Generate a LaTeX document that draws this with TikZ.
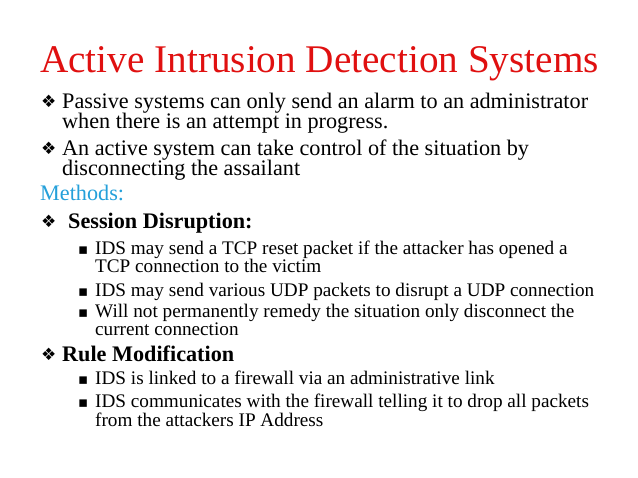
\documentclass[tikz,border=0pt]{standalone}
\usepackage{fontspec}
\setmainfont{Liberation Serif}
\newfontfamily\symfont{DejaVu Sans}
\definecolor{titlered}{RGB}{224,16,16}
\definecolor{methblue}{RGB}{36,160,218}
\begin{document}
\begin{tikzpicture}[x=1pt,y=-1pt,
  txt/.style={anchor=base west,inner sep=0pt,font=\fontsize{22.2}{26}\selectfont},
  subtxt/.style={anchor=base west,inner sep=0pt,font=\fontsize{19.2}{23}\selectfont},
  dmd/.style={anchor=base west,inner sep=0pt,font=\symfont\fontsize{17}{20}\selectfont},
  sq/.style={anchor=base west,inner sep=0pt,font=\symfont\fontsize{15}{18}\selectfont}]
\useasboundingbox (0,0) rectangle (638,478);
\fill[white] (0,0) rectangle (638,478);
\node[anchor=base,inner sep=0pt,text=titlered,font=\fontsize{39.2}{46}\selectfont] (title) at (319.5,73) {Active Intrusion Detection Systems};
% bullet 1
\node[dmd] (b1) at (41,108) {❖};
\node[txt] (t1a) at (62,109) {Passive systems can only send an alarm to an administrator};
\node[txt] (t1b) at (62,129) {when there is an attempt in progress.};
% bullet 2
\node[dmd] (b2) at (41,155) {❖};
\node[txt] (t2a) at (62,156) {An active system can take control of the situation by};
\node[txt] (t2b) at (62,176) {disconnecting the assailant};
% methods
\node[txt,text=methblue] (meth) at (40,201) {Methods:};
% session disruption
\node[dmd] (b3) at (41,228) {❖};
\node[txt,font=\bfseries\fontsize{22.2}{26}\selectfont] (sd) at (68,229) {Session Disruption:};
\node[sq] (s1) at (78,255) {▪};
\node[subtxt] (s1a) at (95,255) {IDS may send a TCP reset packet if the attacker has opened a};
\node[subtxt] (s1b) at (95,273) {TCP connection to the victim};
\node[sq] (s2) at (78,297) {▪};
\node[subtxt] (s2a) at (95,297) {IDS may send various UDP packets to disrupt a UDP connection};
\node[sq] (s3) at (78,318) {▪};
\node[subtxt] (s3a) at (95,318) {Will not permanently remedy the situation only disconnect the};
\node[subtxt] (s3b) at (95,336) {current connection};
% rule modification
\node[dmd] (b4) at (41,361) {❖};
\node[txt,font=\bfseries\fontsize{22.2}{26}\selectfont] (rm) at (62,362) {Rule Modification};
\node[sq] (r1) at (78,385) {▪};
\node[subtxt] (r1a) at (95,385) {IDS is linked to a firewall via an administrative link};
\node[sq] (r2) at (78,408) {▪};
\node[subtxt] (r2a) at (95,408) {IDS communicates with the firewall telling it to drop all packets};
\node[subtxt] (r2b) at (95,427) {from the attackers IP Address};
\end{tikzpicture}
\end{document}
